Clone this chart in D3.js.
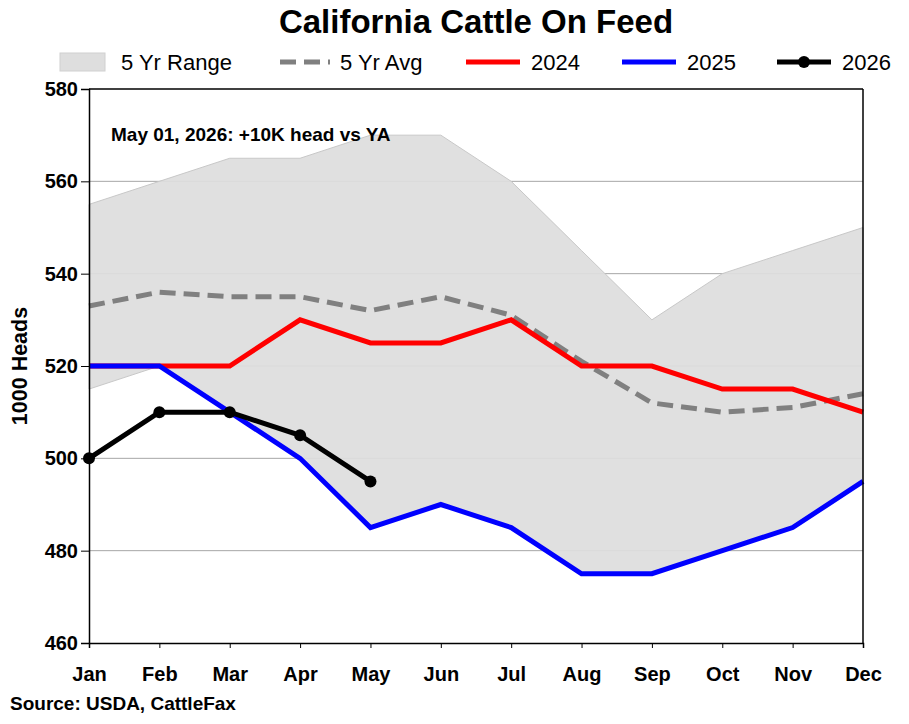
<!DOCTYPE html>
<html>
<head>
<meta charset="utf-8">
<script src="https://cdn.jsdelivr.net/npm/d3@7"></script>
<style>
  body { margin: 0; background: #fff; }
  text { font-family: "Liberation Sans", Arial, sans-serif; }
</style>
</head>
<body>
<div id="chart"></div>
<script>
var months = ["Jan", "Feb", "Mar", "Apr", "May", "Jun", "Jul", "Aug", "Sep", "Oct", "Nov", "Dec"];
var rangeLow = [515, 520, 510, 500, 485, 490, 485, 475, 475, 480, 485, 495];
var rangeHigh = [555, 560, 565, 565, 570, 570, 560, 545, 530, 540, 545, 550];
var avg5 = [533, 536, 535, 535, 532, 535, 531, 521, 512, 510, 511, 514];
var y2024 = [520, 520, 520, 530, 525, 525, 530, 520, 520, 515, 515, 510];
var y2025 = [520, 520, 510, 500, 485, 490, 485, 475, 475, 480, 485, 495];
var y2026 = [500, 510, 510, 505, 495];
var yTicks = [460, 480, 500, 520, 540, 560, 580];

var W = 909, H = 724;
var plotL = 89, plotR = 863, plotT = 89, plotB = 643;

var svg = d3.select("#chart").append("svg")
    .attr("width", W)
    .attr("height", H);

var x = d3.scalePoint().domain(months).range([plotL, plotR]);
var y = d3.scaleLinear().domain([460, 580]).range([plotB, plotT]);

// grid
svg.append("g")
    .selectAll("line")
    .data(yTicks.filter(function (d) { return d > 460 && d < 580; }))
    .enter()
    .append("line")
    .attr("x1", plotL).attr("x2", plotR)
    .attr("y1", function (d) { return y(d); })
    .attr("y2", function (d) { return y(d); })
    .attr("stroke", "#a6a6a6")
    .attr("stroke-width", 1);

// 5 yr range
var area = d3.area()
    .x(function (d, i) { return x(months[i]); })
    .y0(function (d, i) { return y(rangeLow[i]); })
    .y1(function (d) { return y(d); });

svg.append("path")
    .datum(rangeHigh)
    .attr("d", area)
    .attr("fill", "#dedede")
    .attr("fill-opacity", 0.93)
    .attr("stroke", "#c8c8c8")
    .attr("stroke-width", 1);

var line = d3.line()
    .x(function (d, i) { return x(months[i]); })
    .y(function (d) { return y(d); });

svg.append("path")
    .datum(avg5)
    .attr("d", line)
    .attr("fill", "none")
    .attr("stroke", "#808080")
    .attr("stroke-width", 5)
    .attr("stroke-dasharray", "16,8");

svg.append("path")
    .datum(y2024)
    .attr("d", line)
    .attr("fill", "none")
    .attr("stroke", "#ff0000")
    .attr("stroke-width", 5);

svg.append("path")
    .datum(y2025)
    .attr("d", line)
    .attr("fill", "none")
    .attr("stroke", "#0000ff")
    .attr("stroke-width", 5);

svg.append("path")
    .datum(y2026)
    .attr("d", line)
    .attr("fill", "none")
    .attr("stroke", "#000")
    .attr("stroke-width", 5);

svg.append("g")
    .selectAll("circle")
    .data(y2026)
    .enter()
    .append("circle")
    .attr("cx", function (d, i) { return x(months[i]); })
    .attr("cy", function (d) { return y(d); })
    .attr("r", 6)
    .attr("fill", "#000");

// frame top / right
svg.append("line").attr("x1", plotL).attr("x2", plotR).attr("y1", plotT).attr("y2", plotT)
    .attr("stroke", "#000").attr("stroke-width", 1.5);
svg.append("line").attr("x1", plotR).attr("x2", plotR).attr("y1", plotT).attr("y2", plotB)
    .attr("stroke", "#000").attr("stroke-width", 1.5);

// axes
var yAxis = svg.append("g")
    .attr("transform", "translate(" + plotL + ",0)")
    .call(d3.axisLeft(y).tickValues(yTicks).tickSize(8).tickPadding(3));
yAxis.select(".domain").attr("stroke", "#000").attr("stroke-width", 1.5);
yAxis.selectAll("text")
    .style("font-family", "'Liberation Sans', Arial, sans-serif")
    .style("font-size", "20px")
    .style("font-weight", "bold")
    .attr("fill", "#000");

var xAxis = svg.append("g")
    .attr("transform", "translate(0," + plotB + ")")
    .call(d3.axisBottom(x).tickSize(5).tickPadding(19));
xAxis.select(".domain").attr("stroke", "#000").attr("stroke-width", 1.5);
xAxis.selectAll("text")
    .style("font-family", "'Liberation Sans', Arial, sans-serif")
    .style("font-size", "20px")
    .style("font-weight", "bold")
    .attr("fill", "#000");

// title
svg.append("text")
    .attr("x", 476).attr("y", 33)
    .attr("text-anchor", "middle")
    .style("font-size", "33px")
    .style("font-weight", "bold")
    .text("California Cattle On Feed");

svg.append("text")
    .attr("transform", "translate(27," + 366 + ") rotate(-90)")
    .attr("text-anchor", "middle")
    .style("font-size", "21.5px")
    .style("font-weight", "bold")
    .text("1000 Heads");

svg.append("text")
    .attr("x", 111).attr("y", 141)
    .style("font-size", "19px")
    .style("font-weight", "bold")
    .text("May 01, 2026: +10K head vs YA");

svg.append("text")
    .attr("x", 10).attr("y", 710)
    .style("font-size", "19px")
    .style("font-weight", "bold")
    .text("Source: USDA, CattleFax");

// legend
var lg = svg.append("g");
var ly = 62;
lg.append("rect").attr("x", 60).attr("y", ly - 9).attr("width", 45).attr("height", 18)
    .attr("fill", "#dedede").attr("stroke", "#d0d0d0");
lg.append("line").attr("x1", 280).attr("x2", 330).attr("y1", ly).attr("y2", ly)
    .attr("stroke", "#808080").attr("stroke-width", 5).attr("stroke-dasharray", "16,8");
lg.append("line").attr("x1", 466).attr("x2", 520).attr("y1", ly).attr("y2", ly)
    .attr("stroke", "#ff0000").attr("stroke-width", 5);
lg.append("line").attr("x1", 622).attr("x2", 676).attr("y1", ly).attr("y2", ly)
    .attr("stroke", "#0000ff").attr("stroke-width", 5);
lg.append("line").attr("x1", 777).attr("x2", 831).attr("y1", ly).attr("y2", ly)
    .attr("stroke", "#000").attr("stroke-width", 5);
lg.append("circle").attr("cx", 804).attr("cy", ly).attr("r", 6).attr("fill", "#000");

var legendLabels = [["5 Yr Range", 121], ["5 Yr Avg", 340], ["2024", 531], ["2025", 687], ["2026", 842]];
lg.selectAll("text.lab")
    .data(legendLabels)
    .enter()
    .append("text")
    .attr("class", "lab")
    .attr("x", function (d) { return d[1]; })
    .attr("y", ly + 8)
    .style("font-size", "22px")
    .text(function (d) { return d[0]; });
</script>
</body>
</html>
